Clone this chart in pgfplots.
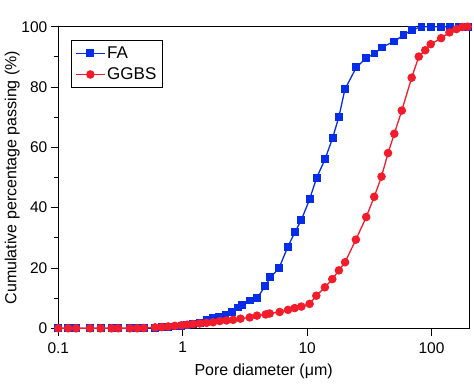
\documentclass[border=0pt]{standalone}
\usepackage{pgfplots}
\pgfplotsset{compat=1.18}
\usepackage{fontspec}
\setmainfont{Liberation Sans}
\definecolor{fablue}{RGB}{5,45,232}
\definecolor{ggred}{RGB}{242,28,42}
\begin{document}
\begin{tikzpicture}
\useasboundingbox (-58.3pt,-58.7pt) rectangle (415.7pt,328.3pt);
\begin{axis}[
  width=410.7pt, height=301.6pt, scale only axis,
  xmode=log, log basis x=10,
  xmin=0.1, xmax=200, ymin=0, ymax=100,
  xtick={0.1,1,10,100}, xticklabels={0.1,1,10,100},
  ytick={0,20,40,60,80,100},
  minor ytick={10,30,50,70,90},
  xtick pos=left, ytick pos=left,
  tick align=outside,
  major tick length=7.5pt, minor tick length=4.5pt,
  tick style={black, line width=0.8pt},
  axis line style={black, line width=0.9pt},
  /pgf/number format/assume math mode=true,
  tick label style={font=\fontsize{15.5}{18}\selectfont},
  xticklabel style={yshift=-3pt},
  label style={font=\fontsize{16}{19}\selectfont},
  xlabel={Pore diameter (μm)},
  ylabel={Cumulative percentage passing (\%)},
  xlabel style={at={(axis description cs:0.5,0)}, anchor=north, yshift=-32pt},
  ylabel style={at={(axis description cs:0,0.5)}, anchor=south, yshift=35pt},
  legend style={at={(0.031,0.957)}, anchor=north west, draw=black, line width=0.9pt,
    font=\fontsize{17}{20}\selectfont, row sep=4pt, inner xsep=4pt, inner ysep=4.5pt,
    nodes={inner sep=2pt}},
  legend cell align=left,
  legend image code/.code={\draw[mark repeat=2,mark phase=2] plot coordinates {(0cm,0cm) (0.5cm,0cm) (1.0cm,0cm)};},
]
\addplot[color=fablue, line width=1.3pt, mark=square*, mark size=3.3pt] coordinates {
(0.1,0) (0.12,0) (0.139,0) (0.18,0) (0.219,0) (0.268,0) (0.303,0) (0.376,0) (0.431,0)
(0.487,0.1) (0.60,0.2) (0.676,0.3) (0.763,0.4) (0.864,0.6) (0.978,0.8) (1.085,1.1)
(1.212,1.4) (1.372,1.9) (1.553,2.7) (1.735,3.3) (1.960,3.8) (2.206,4.5) (2.492,5.5)
(2.804,6.9) (3.020,7.8) (3.475,9.2) (3.955,9.9) (4.585,13.9) (5.066,16.9) (5.938,19.9)
(6.975,26.9) (7.984,31.9) (8.985,35.9) (10.47,42.8) (11.92,49.9) (13.95,56.1) (16.02,63.1)
(18.00,70.1) (20.11,79.2) (24.83,86.5) (29.87,89.6) (34.81,91.1) (39.84,93.1) (49.73,95.1)
(59.5,97.2) (69.4,98.9) (82.98,100) (99.3,100) (119.4,100) (141.8,100) (167.5,100) (195.2,100)
};
\addlegendentry{FA}
\addplot[color=ggred, line width=1.3pt, mark=*, mark size=3.6pt] coordinates {
(0.1,0) (0.12,0) (0.139,0) (0.18,0) (0.219,0) (0.268,0) (0.303,0) (0.376,0) (0.431,0)
(0.487,0.1) (0.60,0.3) (0.676,0.4) (0.763,0.6) (0.864,0.8) (0.978,1.0) (1.085,1.2)
(1.212,1.4) (1.372,1.6) (1.554,1.8) (1.754,2.0) (1.985,2.4) (2.247,2.6) (2.539,2.8)
(2.911,3.2) (3.456,3.6) (3.955,4.2) (4.645,4.6) (5.0,4.9) (6.015,5.4) (7.015,6.1)
(7.936,6.7) (8.985,7.2) (10.47,8.1) (11.85,10.8) (13.9,13.6) (15.93,16.3) (18.0,19.2)
(20.18,21.9) (24.65,29.4) (29.87,36.9) (34.62,43.6) (39.62,50.3) (44.68,58.1) (50.19,64.5)
(57.66,72.2) (69.24,83.1) (78.96,90.1) (89.0,92.2) (98.5,94.2) (119.4,96.2) (139.2,98.1)
(158.4,99.2) (177.0,99.9) (195.2,100)
};
\addlegendentry{GGBS}
\end{axis}
\end{tikzpicture}
\end{document}
